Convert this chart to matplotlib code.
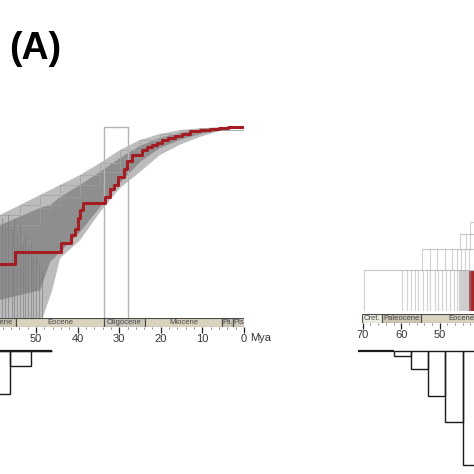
import matplotlib
matplotlib.use('Agg')
import numpy as np
import matplotlib.pyplot as plt
from matplotlib.patches import Rectangle

plt.rcParams['font.family'] = ['Liberation Sans Narrow', 'Liberation Sans', 'DejaVu Sans']

# ---- panel A, left: lineages through time (time in Mya, lineages on log scale)
red_t = [58.7, 55.0, 44.0, 41.6, 40.6, 39.9, 39.4, 38.7, 33.4, 32.2, 31.2, 30.3,
         28.8, 28.1, 26.9, 24.5, 23.3, 22.1, 20.9, 19.7, 18.2, 16.6, 14.8, 13.0,
         10.6, 8.2, 6.0, 3.8, 0.0]
red_n = [3, 4, 5, 6, 7, 9, 11, 13, 15, 18, 20, 24, 29, 35, 41, 46, 49, 52, 55,
         59, 62, 65, 68, 72, 74, 77, 78, 80, 80]

# envelope of the posterior tree cloud
hi_t = [58.65, 53.85, 49.0, 44.2, 39.4, 34.6, 29.8, 25.0, 20.2, 15.4, 10.6, 5.8, 0.0]
hi_n = [9.7, 12.3, 15.7, 19.9, 25.3, 33.7, 46, 58.5, 67.6, 74, 77.5, 79.5, 80.5]
lo_t = [58.65, 48.5, 46.1, 44.2, 39.4, 34.6, 29.8, 25.0, 20.2, 15.4, 10.6, 5.8, 0.0]
lo_n = [0.8, 0.8, 1.6, 3.45, 5.3, 10.4, 18.5, 27.2, 40.8, 52.3, 63, 72.8, 80]
core_t = [58.65, 49.0, 46.6, 44.2, 39.4, 34.6, 29.8, 25.0, 20.2, 15.4, 10.6, 0.0]
core_hi = [7.6, 11.5, 12.3, 14.9, 19.9, 27.2, 38, 50.7, 61.4, 69.3, 74.4, 80]
core_lo = [1.27, 1.6, 3.15, 4.0, 6.46, 11.7, 20.9, 34.6, 48.3, 58.5, 67.6, 80]

# single lineage drops at the root end
drop_t = [58.2, 57.5, 56.7, 55.8, 55.3, 54.6, 53.8, 53.1, 52.6, 51.9, 51.2,
          50.7, 50.0, 49.3, 48.6]
drop_n = [9, 8, 10, 7, 9, 6, 8, 5, 6, 4.5, 5, 3.5, 4, 3, 2.5]

# highlighted interval (Eocene-Oligocene)
box_t = [33.6, 27.9]
box_n = 80

# ---- panel A, right: LTT of second clade
r_lvl_n = [2, 3, 4, 5]
r_lvl_t = [
    [69.7, 59.9, 58.5, 57.5, 56.4, 55.6, 54.3, 53.2, 52.4, 51.1, 50.4, 49.4, 48.4,
     47.3, 46.3, 45.5, 45.0, 44.7, 44.5, 44.2, 44.0, 43.7, 43.4, 43.2, 42.9,
     42.6, 42.5, 42.1],
    [54.6, 52.5, 50.7, 48.6, 46.9, 45.5, 44.4, 43.3, 42.3],
    [44.7, 43.1, 42.0],
    [42.1],
]
r_red_t = [42.3, 41.0]

# ---- histograms under the time axes
left_bins = [61.3, 56.25, 51.2, 46.1]
left_vals = [43, 15, 0]
right_bins = [62.0, 57.5, 53.0, 48.5, 44.0, 39.5]
right_vals = [5, 18, 45, 71, 114]
right_base = [71.2, 62.0]

# ---- geologic time scale
epochs = ['Cret.', 'Paleocene', 'Eocene', 'Oligocene', 'Miocene', 'Pli.', 'Pls']
ep_start = [70.3, 65.0, 54.8, 33.7, 23.8, 5.3, 2.6]
ep_end = [65.0, 54.8, 33.7, 23.8, 5.3, 2.6, 0.0]
ep_col = ['#efebdf', '#cbc5b1', '#d8d2be', '#cac6b9', '#d8d2be', '#cbc5b1', '#d2ccbc']

W = 474.0


def rect(x0, y0, x1, y1):
    return [x0 / W, 1 - y1 / W, (x1 - x0) / W, (y1 - y0) / W]


def timescale(ax, xlim, majors):
    lo, hi = min(xlim), max(xlim)
    for name, s, e, c in zip(epochs, ep_start, ep_end, ep_col):
        if e > hi or s < lo:
            continue
        ax.add_patch(Rectangle((s, 0), e - s, 1, fc=c, ec='#4a4a4a', lw=0.8))
        ax.text((s + e) / 2, 0.45, name, ha='center', va='center', fontsize=5.5,
                color='#444444', clip_on=True)
    for s in ax.spines.values():
        s.set_visible(False)
    ax.set_yticks([])
    ax.set_xticks(majors)
    minors = [m for m in range(0, 72, 2) if lo <= m <= hi]
    ax.set_xticks(minors, minor=True)
    ax.tick_params(axis='x', which='major', length=4.5, width=0.9, color='#222222',
                   labelsize=8, labelcolor='#333333', pad=0.5)
    ax.tick_params(axis='x', which='minor', length=1.5, width=0.5, color='#555555')
    ax.set_xlim(*xlim)
    ax.set_ylim(0, 1)


fig = plt.figure(figsize=(4.74, 4.74), dpi=100)

# left LTT
lx = (58.65, 0)
ax = fig.add_axes(rect(0, 110, 244, 318))
ax.set_yscale('log')
ax.fill(hi_t + lo_t[::-1], hi_n + lo_n[::-1], color='#bcbcbc', lw=0)
ax.fill(core_t + core_t[::-1], core_hi + core_lo[::-1], color='#8e8e8e', lw=0)
ax.step(hi_t, hi_n, where='post', color='#a6a6a6', lw=0.6)
ax.step(core_t, core_hi, where='post', color='#9c9c9c', lw=0.6)
ax.vlines(drop_t, 0.822, drop_n, color='#7a7a7a', lw=0.8, alpha=0.6)
ax.plot([box_t[0], box_t[0], box_t[1], box_t[1]], [0.822, box_n, box_n, 0.822],
        color='#b3b3b3', lw=1.0)
ax.step(red_t, red_n, where='post', color='#a31d22', lw=2.2)
ax.set_xlim(*lx)
ax.set_ylim(0.822, 120)
ax.axis('off')

# left time scale
ts = fig.add_axes(rect(0, 318, 244, 327))
timescale(ts, lx, [50, 40, 30, 20, 10, 0])
fig.text(250 / W, 1 - 338 / W, 'Mya', fontsize=8, color='#333333', va='center')

# left histogram
hx = fig.add_axes(rect(0, 345, 244, 474))
hx.bar(left_bins[:-1], left_vals, width=np.diff(left_bins), align='edge',
       fill=False, edgecolor='#1a1a1a', lw=1.0)
hx.hlines(0, left_bins[0], left_bins[-1], color='#1a1a1a', lw=1.6)
hx.set_xlim(*lx)
hx.set_ylim(123, -6)
hx.axis('off')

# right LTT
rx = (73.3, 41.09)
ar = fig.add_axes(rect(350, 200, 474, 311))
ar.set_yscale('log')
prev = 0.909
for n, tl in zip(r_lvl_n, r_lvl_t):
    ar.hlines(n, max(tl), rx[1], color='#c4c4c4', lw=0.8)
    ar.vlines(tl, prev, n, color='#9a9a9a', lw=0.8, alpha=0.45)
    prev = n
ar.fill_between(r_red_t, 0.909, 2, color='#a52a2a', lw=0)
ar.set_xlim(*rx)
ar.set_ylim(0.909, 7.69)
ar.axis('off')

# right time scale
rts = fig.add_axes(rect(350, 314, 474, 323))
timescale(rts, rx, [70, 60, 50])

# right histogram
rh = fig.add_axes(rect(350, 345, 474, 474))
rh.bar(right_bins[:-1], right_vals, width=np.diff(right_bins), align='edge',
       fill=False, edgecolor='#1a1a1a', lw=1.0)
rh.hlines(0, right_base[0], right_base[1], color='#1a1a1a', lw=1.6)
rh.set_xlim(*rx)
rh.set_ylim(123, -6)
rh.axis('off')

fig.text(9 / W, 1 - 59 / W, '(A)', fontsize=27, fontweight='bold',
         family=['Liberation Sans', 'DejaVu Sans'], va='baseline')

fig.savefig('out.png', dpi=100)
